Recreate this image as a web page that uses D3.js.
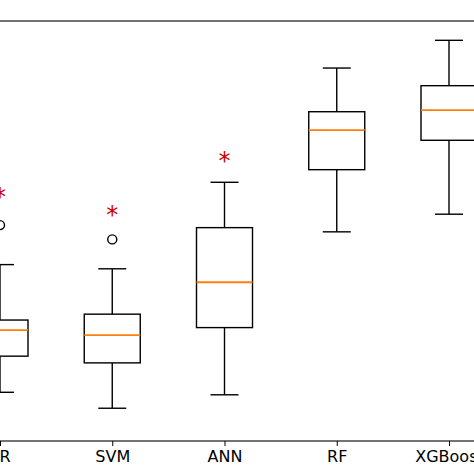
<!DOCTYPE html><html><head><script src="https://cdn.jsdelivr.net/npm/d3@7"></script>
<style>body{margin:0;background:#fff}</style></head><body><svg id="c" width="474" height="474"></svg>
<script>
const categories=["LR","SVM","ANN","RF","XGBoost"];
const whiskerLow=[0.558,0.539,0.555,0.749,0.770];
const q1=[0.601,0.593,0.635,0.823,0.858];
const median=[0.632,0.626,0.689,0.870,0.894];
const q3=[0.644,0.651,0.754,0.892,0.923];
const whiskerHigh=[0.710,0.705,0.808,0.944,0.977];
const outliers=[[0.757],[0.740],[],[],[]];
const starMarks=[0.795,0.774,0.838,null,null];

const svg=d3.select("#c");
const x=d3.scalePoint().domain(categories).range([0,449]);
const y=d3.scaleLinear().domain([0.5,1.0]).range([441,21]);
const bw=56, cw=28;
svg.append("rect").attr("x",-10).attr("y",21).attr("width",494).attr("height",420).attr("fill","none").attr("stroke","#000").attr("stroke-width",1.1);
const ax=svg.append("g").attr("transform","translate(0,441)").call(d3.axisBottom(x).tickSize(5).tickPadding(5));
ax.select(".domain").remove();
ax.selectAll("text").attr("font-family","DejaVu Sans").attr("font-size",16).attr("fill","#000");
categories.forEach((c,i)=>{
  const cx=x(c), g=svg.append("g").attr("stroke","#000").attr("fill","none").attr("stroke-width",1.4);
  g.append("line").attr("x1",cx).attr("x2",cx).attr("y1",y(whiskerLow[i])).attr("y2",y(q1[i]));
  g.append("line").attr("x1",cx).attr("x2",cx).attr("y1",y(q3[i])).attr("y2",y(whiskerHigh[i]));
  [whiskerLow[i],whiskerHigh[i]].forEach(v=>g.append("line").attr("x1",cx-cw/2).attr("x2",cx+cw/2).attr("y1",y(v)).attr("y2",y(v)));
  g.append("rect").attr("x",cx-bw/2).attr("width",bw).attr("y",y(q3[i])).attr("height",y(q1[i])-y(q3[i]));
  g.append("line").attr("x1",cx-bw/2).attr("x2",cx+bw/2).attr("y1",y(median[i])).attr("y2",y(median[i])).attr("stroke","#ff7f0e").attr("stroke-width",1.8);
  outliers[i].forEach(v=>g.append("circle").attr("cx",cx).attr("cy",y(v)).attr("r",4.5));
  if(starMarks[i]!=null) svg.append("text").attr("x",cx).attr("y",y(starMarks[i])+12).attr("text-anchor","middle").attr("fill","#cc0000").attr("font-family","DejaVu Sans").attr("font-size",24).text("*");
});
</script></body></html>
